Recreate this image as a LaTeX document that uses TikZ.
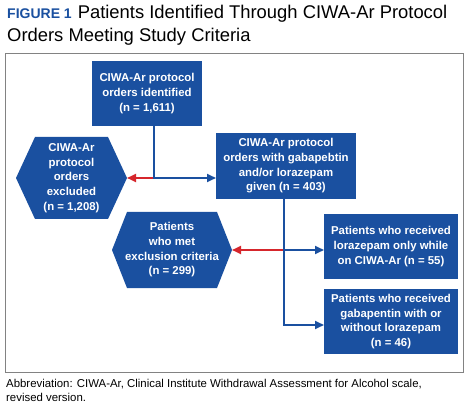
\documentclass[tikz,border=0pt]{standalone}
\usepackage{fontspec}
\setmainfont{Liberation Sans}
\usetikzlibrary{arrows.meta}
\definecolor{fcblue}{RGB}{26,80,160}
\definecolor{fcred}{RGB}{214,38,44}
\definecolor{framegray}{RGB}{130,130,130}
\tikzset{
  boxtext/.style={font=\bfseries\fontsize{11.4}{14.7}\selectfont, text=white, align=center, inner sep=0pt, outer sep=0pt},
  bluebox/.style={boxtext, fill=fcblue, minimum width=#1},
  hexnode/.style={boxtext, path picture={
      \fill[fcblue] (path picture bounding box.west)
        -- ([xshift=#1]path picture bounding box.north west)
        -- ([xshift=-#1]path picture bounding box.north east)
        -- (path picture bounding box.east)
        -- ([xshift=-#1]path picture bounding box.south east)
        -- ([xshift=#1]path picture bounding box.south west) -- cycle;}},
  blueline/.style={draw=fcblue, line width=2.2pt},
  bluearrow/.style={blueline, -{Triangle[length=9pt,width=8pt]}},
  redarrow/.style={draw=fcred, line width=2.2pt, -{Triangle[length=9pt,width=8pt]}},
}
\begin{document}
\begin{tikzpicture}[x=1pt,y=-1pt]
\useasboundingbox (0,0) rectangle (474,414);
\fill[white] (0,0) rectangle (474,414);
% title
\node[anchor=base west, inner sep=0pt] (title1) at (7,18.3)
  {{\bfseries\fontsize{14}{16}\selectfont\color{fcblue}FIGURE 1}\hspace{6pt}\fontsize{18.4}{22}\selectfont Patients Identified Through CIWA-Ar Protocol};
\node[anchor=base west, inner sep=0pt, font=\fontsize{18.4}{22}\selectfont] (title2) at (7,41.7) {Orders Meeting Study Criteria};
% frame
\draw[framegray, line width=1pt] (5,54) rectangle (463,372);
% nodes
\node[bluebox=110pt, minimum height=65pt] (b1) at (147,93.5) {CIWA-Ar protocol\\orders identified\\(n = 1,611)};
\node[hexnode=19pt, minimum width=111pt, minimum height=82pt] (h1) at (71.5,178) {CIWA-Ar\\protocol\\orders\\excluded\\(n = 1,208)};
\node[bluebox=140pt, minimum height=66pt] (b2) at (286,166) {CIWA-Ar protocol\\orders with gabapebtin\\and/or lorazepam\\given (n = 403)};
\node[hexnode=15pt, minimum width=120pt, minimum height=76pt] (h2) at (172,250) {Patients\\who met\\exclusion criteria\\(n = 299)};
\node[bluebox=134pt, minimum height=65pt] (b3) at (391,246.5) {Patients who received\\lorazepam only while\\on CIWA-Ar (n = 55)};
\node[bluebox=134pt, minimum height=65pt] (b4) at (391,321.5) {Patients who received\\gabapentin with or\\without lorazepam\\(n = 46)};
% junctions
\coordinate (j1) at (154,178);
\coordinate (j2) at (284,250);
\coordinate (j3) at (284,325);
% connectors
\draw[blueline] (b1.south -| j1) -- ([yshift=1.1pt]j1);
\draw[redarrow] (j1) -- (h1.east);
\draw[bluearrow] ([xshift=-1.1pt]j1) -- (b2.west |- j1);
\draw[blueline] (b2.south -| j2) -- ([yshift=1.1pt]j3);
\draw[redarrow] (j2) -- (h2.east);
\draw[bluearrow] ([xshift=-1.1pt]j2) -- (b3.west |- j2);
\draw[bluearrow] ([xshift=-1.1pt]j3) -- (b4.west |- j3);
% caption
\node[anchor=base west, inner sep=0pt, font=\fontsize{11.4}{14}\selectfont] (cap1) at (6,387) {Abbreviation: CIWA-Ar, Clinical Institute Withdrawal Assessment for Alcohol scale,};
\node[anchor=base west, inner sep=0pt, font=\fontsize{11.4}{14}\selectfont] (cap2) at (6,401) {revised version.};
\end{tikzpicture}
\end{document}
